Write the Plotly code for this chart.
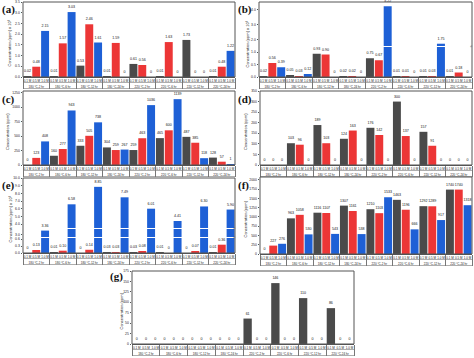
import plotly.graph_objects as go

W, H = 474, 358

# ---------------- data ----------------
groups = ["180 °C-2 hr", "180 °C-6 hr", "180 °C-12 hr", "180 °C-24 hr",
          "220 °C-2 hr", "220 °C-6 hr", "220 °C-12 hr", "220 °C-24 hr"]
conc_labels = ["0.1 M", "0.5 M", "1.0 M"]

a_gray = [0.02, 0.01, 0.53, 0.01, 0.61, 0.01, 1.73, 0.01]
a_red = [0.48, 1.57, 2.46, 1.59, 0.56, 1.63, 0, 0.48]
a_blue = [2.15, 3.03, 1.61, 0, 0, 0, 0, 1.22]

b_gray = [0.02, 0.05, 0.93, 0.02, 0.75, 0.01, 0.01, 0.01]
b_red = [0.56, 0.03, 0.90, 0.02, 0.67, 0.01, 0.03, 0.18]
b_blue = [0.39, 0.12, 0, 0, 4.22, 0, 1.75, 0]

c_gray = [0, 160, 333, 304, 259, 465, 487, 128]
c_red = [123, 277, 505, 259, 463, 600, 385, 57]
c_blue = [408, 943, 738, 267, 1036, 1139, 118, 1]

d_gray = [0, 103, 189, 124, 176, 300, 157, 0]
d_red = [0, 96, 103, 163, 142, 137, 91, 0]
d_blue = [0, 0, 0, 0, 0, 0, 0, 0]

e_gray = [0, 0.01, 0, 0.03, 0.03, 0.01, 0, 0.01]
e_red = [0.13, 0.10, 0.14, 0.03, 0.08, 0, 0.07, 0.36]
e_blue = [3.36, 6.58, 8.85, 7.49, 6.01, 4.41, 6.30, 5.90]

f_gray = [0, 963, 1116, 1307, 1210, 1463, 1292, 1740]
f_red = [227, 1058, 1107, 1161, 1103, 1196, 1289, 1740]
f_blue = [276, 530, 543, 538, 1533, 666, 917, 1318]

g_gray = [0, 0, 0, 0, 61, 146, 110, 86]
g_red = [0, 0, 0, 0, 0, 0, 0, 0]
g_blue = [0, 0, 0, 0, 0, 0, 0, 0]

GRAY, RED, BLUE = "#4a4a4a", "#ec3636", "#1e60d6"
FONT = "Liberation Sans"

def fx(p):
    return p / W

def fy(p):
    return 1 - p / H

def fmt2(v):
    return "0" if v == 0 else f"{v:.2f}"

def fmt0(v):
    return "0" if v == 0 else f"{v:g}"

panels = [
    ("(a)", (a_gray, a_red, a_blue), (23, 235),
     [((0, 3.5), 2, 77, dict(dtick=0.5, tickformat=".1f"))], fmt2,
     "Concentration (ppm) x 10³", (0, 1), 14),
    ("(b)", (b_gray, b_red, b_blue), (259, 472),
     [((0, 1.2), 47, 77, dict(dtick=0.5, tickformat=".1f")),
      ((1.6, 4.5), 2, 46, dict(dtick=1, tickformat=".1f"))], fmt2,
     "Concentration (ppm) x 10³", (236, 1), 12),
    ("(c)", (c_gray, c_red, c_blue), (23, 235),
     [((0, 1280), 91, 165, dict(dtick=250))], fmt0,
     "Concentration (ppm)", (0, 91), 15),
    ("(d)", (d_gray, d_red, d_blue), (260, 472),
     [((0, 350), 91, 165, dict(dtick=50))], fmt0,
     "Concentration (ppm)", (236, 91), 14),
    ("(e)", (e_gray, e_red, e_blue), (23, 235),
     [((0, 0.65), 238, 253, dict(dtick=0.3, tickformat=".1f")),
      ((2.8, 3.5), 229, 237, dict(tickvals=[3.0], tickformat=".1f")),
      ((3.5, 10), 178, 228, dict(dtick=1, tickformat=".1f"))], fmt2,
     "Concentration (ppm) x 10³", (0, 177), 13),
    ("(f)", (f_gray, f_red, f_blue), (260, 472),
     [((0, 2080), 177, 254, dict(dtick=250))], fmt0,
     "Concentration (ppm)", (236, 177), 15),
    ("(g)", (g_gray, g_red, g_blue), (132, 354),
     [((0, 175), 271, 344, dict(dtick=25))], fmt0,
     "Concentration (ppm)", (108, 268), 11),
]

xcats = [[g for g in groups for _ in conc_labels],
         [c for _ in groups for c in conc_labels]]
colors = [GRAY, RED, BLUE] * len(groups)

fig = go.Figure()
layout = dict(
    width=W, height=H, template="none",
    margin=dict(l=0, r=0, t=0, b=0),
    paper_bgcolor="white", plot_bgcolor="white",
    showlegend=False, barmode="overlay", bargap=0.1,
    font=dict(family=FONT, size=4, color="#222"),
)
annotations = []
shapes = []

yidx = 0
for pi, (letter, (gv, rv, bv), (x0, x1), segs, fmt, ytitle, lpos, toff) in enumerate(panels):
    xi = pi + 1
    xname = "x" if xi == 1 else f"x{xi}"
    vals = [v for trip in zip(gv, rv, bv) for v in trip]
    seg_axes = []
    for si, (rng, ytop, ybot, tk) in enumerate(segs):
        yidx += 1
        yname = "y" if yidx == 1 else f"y{yidx}"
        seg_axes.append(yname)
        lo, hi = rng
        if si == 0:
            texts = [fmt(v) if v <= hi else "" for v in vals]
        else:
            texts = [fmt(v) if (v > lo and (v <= hi or si == len(segs) - 1)) else "" for v in vals]
        fig.add_trace(go.Bar(
            x=xcats, y=vals, xaxis=xname, yaxis=yname,
            marker=dict(color=colors, line=dict(width=0)),
            text=texts, textposition="outside", cliponaxis=False,
            constraintext="none", hoverinfo="skip",
            textfont=dict(size=3.6, color="#111", family=FONT),
        ))
        ax = dict(domain=[fy(ybot), fy(ytop)], range=list(rng), anchor=xname,
                  showgrid=False, zeroline=False, showline=False,
                  ticks="outside", ticklen=1.5, tickcolor="#555", tickwidth=0.6,
                  tickfont=dict(size=3.4, family=FONT, color="#222"), automargin=False)
        ax.update(tk)
        layout["yaxis" if yidx == 1 else f"yaxis{yidx}"] = ax
        if si > 0:
            # break marks on the right border
            annotations.append(dict(text="≈", xref="paper", yref="paper",
                                    x=fx(x1 - 1), y=fy(ybot + 0.5), xanchor="center",
                                    yanchor="middle", showarrow=False, textangle=-60,
                                    font=dict(size=4, color="#444", family=FONT)))
    layout["xaxis" if xi == 1 else f"xaxis{xi}"] = dict(
        type="multicategory", domain=[fx(x0), fx(x1)], anchor=seg_axes[0],
        showgrid=False, zeroline=False, showline=True, linecolor="#555", linewidth=0.8,
        ticks="", tickangle=0, showdividers=True, dividercolor="#777", dividerwidth=0.6,
        tickfont=dict(size=3.0, family=FONT, color="#222"), automargin=False,
    )
    ytop_all = segs[-1][1]
    ybot_all = segs[0][2]
    shapes.append(dict(type="rect", xref="paper", yref="paper",
                       x0=fx(x0), x1=fx(x1), y0=fy(ybot_all), y1=fy(ytop_all),
                       line=dict(color="#555", width=1), layer="above"))
    for dy in (5.5, 11.5):
        shapes.append(dict(type="line", xref="paper", yref="paper",
                           x0=fx(x0), x1=fx(x1), y0=fy(ybot_all + dy), y1=fy(ybot_all + dy),
                           line=dict(color="#777", width=0.6)))
    annotations.append(dict(text=f"<b>{letter}</b>", xref="paper", yref="paper",
                            x=fx(lpos[0]), y=fy(lpos[1]), xanchor="left", yanchor="top",
                            showarrow=False, font=dict(family="Liberation Serif", size=11, color="#111")))
    annotations.append(dict(text=ytitle, xref="paper", yref="paper",
                            x=fx(x0 - toff), y=fy((ytop_all + ybot_all) / 2 + 4),
                            xanchor="center", yanchor="middle", textangle=-90,
                            showarrow=False, font=dict(family=FONT, size=4, color="#222")))

layout["annotations"] = annotations
layout["shapes"] = shapes
fig.update_layout(**layout)
fig.write_html("out.html", config={"displayModeBar": False},
               post_script="document.body.style.margin='0';document.body.style.overflow='hidden';")
